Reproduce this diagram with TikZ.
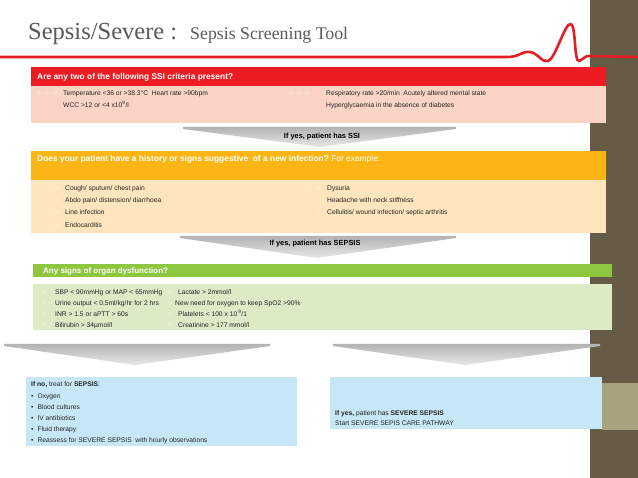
\documentclass[tikz,border=0pt]{standalone}
\usepackage{fontspec}
\setmainfont{Liberation Sans}
\newfontfamily\titlefont{Liberation Serif}
\definecolor{strip}{RGB}{102,92,70}
\definecolor{khaki}{RGB}{169,162,126}
\definecolor{sred}{RGB}{237,28,36}
\definecolor{spink}{RGB}{251,212,197}
\definecolor{sorange}{RGB}{251,182,22}
\definecolor{slorange}{RGB}{254,229,189}
\definecolor{sgreen}{RGB}{141,198,63}
\definecolor{slgreen}{RGB}{221,234,198}
\definecolor{sblue}{RGB}{199,231,247}
\definecolor{ecgred}{RGB}{228,30,38}
\definecolor{titlegrey}{RGB}{90,90,90}
\definecolor{bodytext}{RGB}{35,35,35}
\pgfdeclareradialshading{vign}{\pgfpoint{0bp}{0bp}}{color(0bp)=(white); color(38bp)=(white); color(58bp)=(black!7); color(72bp)=(black!18)}
\begin{document}
\begin{tikzpicture}[x=1pt,y=-1pt,
  txt/.style={anchor=base west, inner sep=0pt, font=\fontsize{6.7}{8}\selectfont, text=bodytext},
  hdr/.style={anchor=base west, inner sep=0pt, font=\fontsize{8.4}{10}\selectfont\bfseries, text=white},
  lbl/.style={anchor=base, inner sep=0pt, font=\fontsize{7.4}{9}\selectfont\bfseries, text=black},
  chev/.style={top color=black!30, bottom color=black!9, draw=none},
  ecg/.style={draw=ecgred, line width=2.6pt, line cap=round, line join=round},
  faint/.style={fill=white, opacity=0.2}]
\useasboundingbox (0,0) rectangle (638,478);
% background
\shade[shading=vign] (0,0) rectangle (590,478);
\fill[strip] (590,0) rectangle (638,478);
\fill[khaki] (602,383) rectangle (638,430);
% ECG line
\draw[ecg] (0,57) -- (508,57) .. controls (519,57) and (522,51) .. (530,52)
  .. controls (538,53) and (542,63) .. (548,61)
  .. controls (556,58) and (565,22) .. (571,24)
  .. controls (576,26) and (574,62) .. (579,61)
  .. controls (583,60) and (585,55) .. (590,56) -- (638,57);
% title
\node[anchor=base west, inner sep=0pt, text=titlegrey, font=\titlefont\fontsize{24.5}{28}\selectfont] (t1) at (28,40) {Sepsis/Severe :};
\node[anchor=base west, inner sep=0pt, text=titlegrey, font=\titlefont\fontsize{17.8}{21}\selectfont] (t2) at (190,40) {Sepsis Screening Tool};

% box 1
\fill[sred] (31,67) rectangle (606,86);
\fill[spink] (31,86) rectangle (606,123);
\node[hdr] (h1) at (37,80) {Are any two of the following SSI criteria present?};
\foreach \x in {37,45,53,289,297,305} \fill[faint] (\x,91.5) rectangle ++(3.5,3.5);
\node[txt] (a1) at (63,95.5) {Temperature <36 or >38.3°C\ \ Heart rate >90bpm};
\node[txt] (a2) at (63,107.5) {WCC >12 or <4 x10\textsuperscript{9}/l};
\node[txt] (a3) at (326,95.5) {Respiratory rate >20/min\ \ Acutely altered mental state};
\node[txt] (a4) at (326,107.5) {Hyperglycaemia in the absence of diabetes};

% arrow 1
\shade[chev] (183,127) -- (456,127) -- (456,129) -- (320,147) -- (183,129) -- cycle;
\node[lbl] (l1) at (322,139) {If yes, patient has SSI};

% box 2
\fill[sorange] (31,151) rectangle (606,180);
\fill[slorange] (31,180) rectangle (606,233);
\node[hdr] (h2) at (37,162) {Does your patient have a history or signs suggestive\ \ of a new infection?\mdseries\ For example:};
\foreach \y in {186.5,198.5,211,223.5} \fill[faint] (56,\y) rectangle ++(3.5,3.5);
\foreach \y in {186.5,198.5,211} \fill[faint] (317,\y) rectangle ++(3.5,3.5);
\node[txt] (b1) at (65,190.5) {Cough/ sputum/ chest pain};
\node[txt] (b2) at (65,202.5) {Abdo pain/ distension/ diarrhoea};
\node[txt] (b3) at (65,215) {Line infection};
\node[txt] (b4) at (65,227.5) {Endocarditis};
\node[txt] (b5) at (327,190.5) {Dysuria};
\node[txt] (b6) at (327,202.5) {Headache with neck stiffness};
\node[txt] (b7) at (327,215) {Cellulitis/ wound infection/ septic arthritis};

% arrow 2
\shade[chev] (180,236) -- (456,236) -- (456,238) -- (317,258) -- (180,238) -- cycle;
\node[lbl] (l2) at (315,246) {If yes, patient has SEPSIS};

% box 3
\fill[sgreen] (33,264) rectangle (612,277);
\fill[slgreen] (33,284) rectangle (612,330);
\node[hdr, font=\fontsize{8}{9.6}\selectfont\bfseries] (h3) at (43,273.5) {Any signs of organ dysfunction?};
\foreach \y in {290.5,301.3,312,322.7} {\fill[faint] (42,\y) rectangle ++(3.5,3.5); \fill[faint] (167,\y) rectangle ++(3.5,3.5);}
\node[txt] (c1) at (55,295) {SBP < 90mmHg or MAP < 65mmHg};
\node[txt] (c2) at (55,305.7) {Urine output < 0.5ml/kg/hr for 2 hrs};
\node[txt] (c3) at (55,316.4) {INR > 1.5 or aPTT > 60s};
\node[txt] (c4) at (55,327.1) {Bilirubin > 34µmol/l};
\node[txt] (c5) at (178,295) {Lactate > 2mmol/l};
\node[txt] (c6) at (175,305.7) {New need for oxygen to keep SpO2 >90\%};
\node[txt] (c7) at (178,316.4) {Platelets < 100 x 10\,\textsuperscript{9}/1};
\node[txt] (c8) at (178,327.1) {Creatinine > 177 mmol/l};

% arrows 3
\shade[chev] (4,344) -- (270,344) -- (270,346) -- (135,365) -- (4,346) -- cycle;
\shade[chev] (333,344) -- (600,344) -- (600,346) -- (465,365) -- (333,346) -- cycle;

% blue boxes
\fill[sblue] (26,377) rectangle (297,446);
\fill[sblue] (330,377) rectangle (602,429);
\node[txt] (d0) at (31,386.5) {\bfseries If no,\mdseries\ treat for \bfseries SEPSIS\mdseries:};
\node[txt] (d1) at (31,398.5) {•\hspace{4pt}Oxygen};
\node[txt] (d2) at (31,409.5) {•\hspace{4pt}Blood cultures};
\node[txt] (d3) at (31,420.5) {•\hspace{4pt}IV antibiotics};
\node[txt] (d4) at (31,432) {•\hspace{4pt}Fluid therapy};
\node[txt] (d5) at (31,443) {•\hspace{4pt}Reassess for SEVERE SEPSIS\ \ with hourly observations};
\node[txt] (e1) at (335,415.5) {\bfseries If yes,\mdseries\ patient has \bfseries SEVERE SEPSIS};
\node[txt] (e2) at (335,426) {Start SEVERE SEPIS CARE PATHWAY};
\end{tikzpicture}
\end{document}
